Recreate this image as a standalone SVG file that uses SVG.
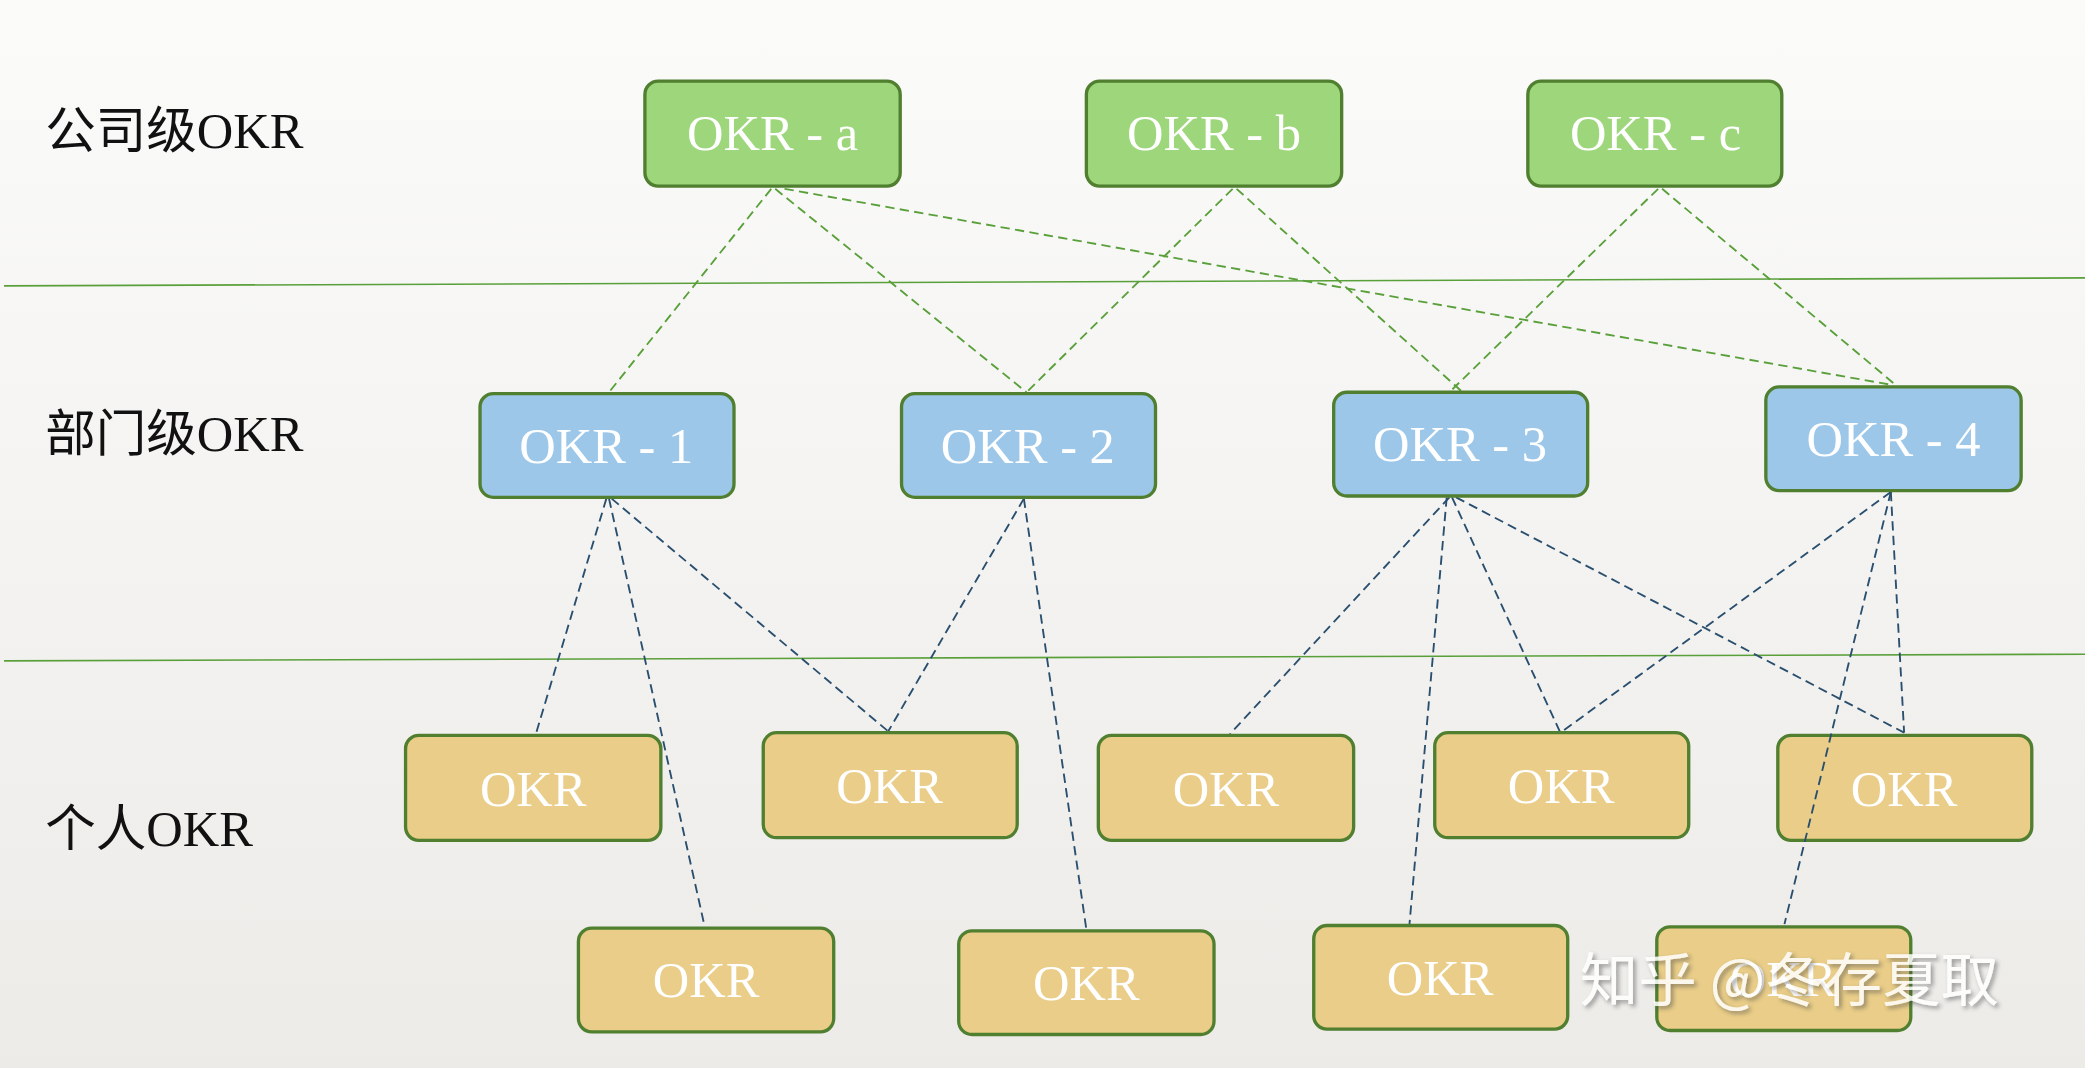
<svg xmlns="http://www.w3.org/2000/svg" width="2085" height="1068" viewBox="0 0 2085 1068">
<defs>
<linearGradient id="bg" x1="0" y1="0" x2="0" y2="1"><stop offset="0" stop-color="#fbfbfa"/><stop offset="1" stop-color="#ecebe8"/></linearGradient>
<filter id="sh" x="-10%" y="-30%" width="120%" height="160%"><feDropShadow dx="2" dy="2" stdDeviation="1.5" flood-color="#444" flood-opacity="0.6"/></filter>
<style>
.n rect{stroke:#4f7f2f;stroke-width:2.5}
.g rect{fill:#9dd67b}.b rect{fill:#9cc7e9}.y rect{fill:#e9cd88}
.n text{font-family:"Liberation Serif",serif;font-size:38px;fill:#fff;text-anchor:middle}
.lab{font-family:"Liberation Serif","Noto Sans CJK SC",serif;font-size:38px;fill:#111}
.cg line{stroke:#5aa03a;stroke-width:1.4;stroke-dasharray:7 4}
.cb line{stroke:#2a4f6e;stroke-width:1.4;stroke-dasharray:7 4}
</style>
</defs>
<rect width="2085" height="1068" fill="url(#bg)"/>
<g transform="scale(1.3297)">
<line x1="3" y1="215" x2="1568" y2="209" stroke="#5aa03a" stroke-width="1.2"/>
<line x1="3" y1="497" x2="1568" y2="492" stroke="#5aa03a" stroke-width="1.2"/>
<text class="lab" x="34" y="111">公司级OKR</text>
<text class="lab" x="34" y="339">部门级OKR</text>
<text class="lab" x="34" y="636">个人OKR</text>
<g id="connectors">
<g class="cg">
<line x1="580" y1="142" x2="458" y2="295"/><line x1="583" y1="142" x2="772" y2="295"/><line x1="590" y1="142" x2="1420" y2="289"/>
<line x1="927" y1="142" x2="772" y2="295"/><line x1="930" y1="142" x2="1100" y2="295"/>
<line x1="1247" y1="142" x2="1090" y2="295"/><line x1="1250" y1="142" x2="1425" y2="289"/>
</g>
<g class="cb">
<line x1="456" y1="375" x2="403" y2="552"/><line x1="458" y1="375" x2="530" y2="697"/><line x1="460" y1="375" x2="668" y2="550"/>
<line x1="770" y1="375" x2="668" y2="550"/><line x1="770" y1="375" x2="817" y2="699"/>
<line x1="1090" y1="374" x2="925" y2="552"/><line x1="1088" y1="374" x2="1060" y2="695"/><line x1="1092" y1="374" x2="1173" y2="550"/><line x1="1095" y1="374" x2="1432" y2="551"/>
<line x1="1422" y1="370" x2="1175" y2="550"/><line x1="1422" y1="370" x2="1432" y2="551"/>
</g>
</g>
<g id="a" class="n g"><rect x="485" y="61" width="192" height="79" rx="10"/><text x="581" y="113">OKR - a</text></g>
<g id="b" class="n g"><rect x="817" y="61" width="192" height="79" rx="10"/><text x="913" y="113">OKR - b</text></g>
<g id="c" class="n g"><rect x="1149" y="61" width="191" height="79" rx="10"/><text x="1245" y="113">OKR - c</text></g>
<g id="d1" class="n b"><rect x="361" y="296" width="191" height="78" rx="10"/><text x="456" y="348">OKR - 1</text></g>
<g id="d2" class="n b"><rect x="678" y="296" width="191" height="78" rx="10"/><text x="773" y="348">OKR - 2</text></g>
<g id="d3" class="n b"><rect x="1003" y="295" width="191" height="78" rx="10"/><text x="1098" y="347">OKR - 3</text></g>
<g id="d4" class="n b"><rect x="1328" y="291" width="192" height="78" rx="10"/><text x="1424" y="343">OKR - 4</text></g>
<g id="p1" class="n y"><rect x="305" y="553" width="192" height="79" rx="10"/><text x="401" y="606">OKR</text></g>
<g id="p2" class="n y"><rect x="574" y="551" width="191" height="79" rx="10"/><text x="669" y="604">OKR</text></g>
<g id="p3" class="n y"><rect x="826" y="553" width="192" height="79" rx="10"/><text x="922" y="606">OKR</text></g>
<g id="p4" class="n y"><rect x="1079" y="551" width="191" height="79" rx="10"/><text x="1174" y="604">OKR</text></g>
<g id="p5" class="n y"><rect x="1337" y="553" width="191" height="79" rx="10"/><text x="1432" y="606">OKR</text></g>
<g id="p6" class="n y"><rect x="435" y="698" width="192" height="78" rx="10"/><text x="531" y="750">OKR</text></g>
<g id="p7" class="n y"><rect x="721" y="700" width="192" height="78" rx="10"/><text x="817" y="752">OKR</text></g>
<g id="p8" class="n y"><rect x="988" y="696" width="191" height="78" rx="10"/><text x="1083" y="748">OKR</text></g>
<g id="p9" class="n y"><rect x="1246" y="697" width="191" height="78" rx="10"/><text x="1341" y="749">OKR</text></g>
<g id="connectors-top" class="cb"><line x1="1422" y1="370" x2="1342" y2="695"/></g>
<text x="1188" y="753" font-family="'Noto Sans CJK SC',sans-serif" font-size="44" fill="#fff" opacity="0.85" filter="url(#sh)">知乎 @冬存夏取</text>
</g>
</svg>
